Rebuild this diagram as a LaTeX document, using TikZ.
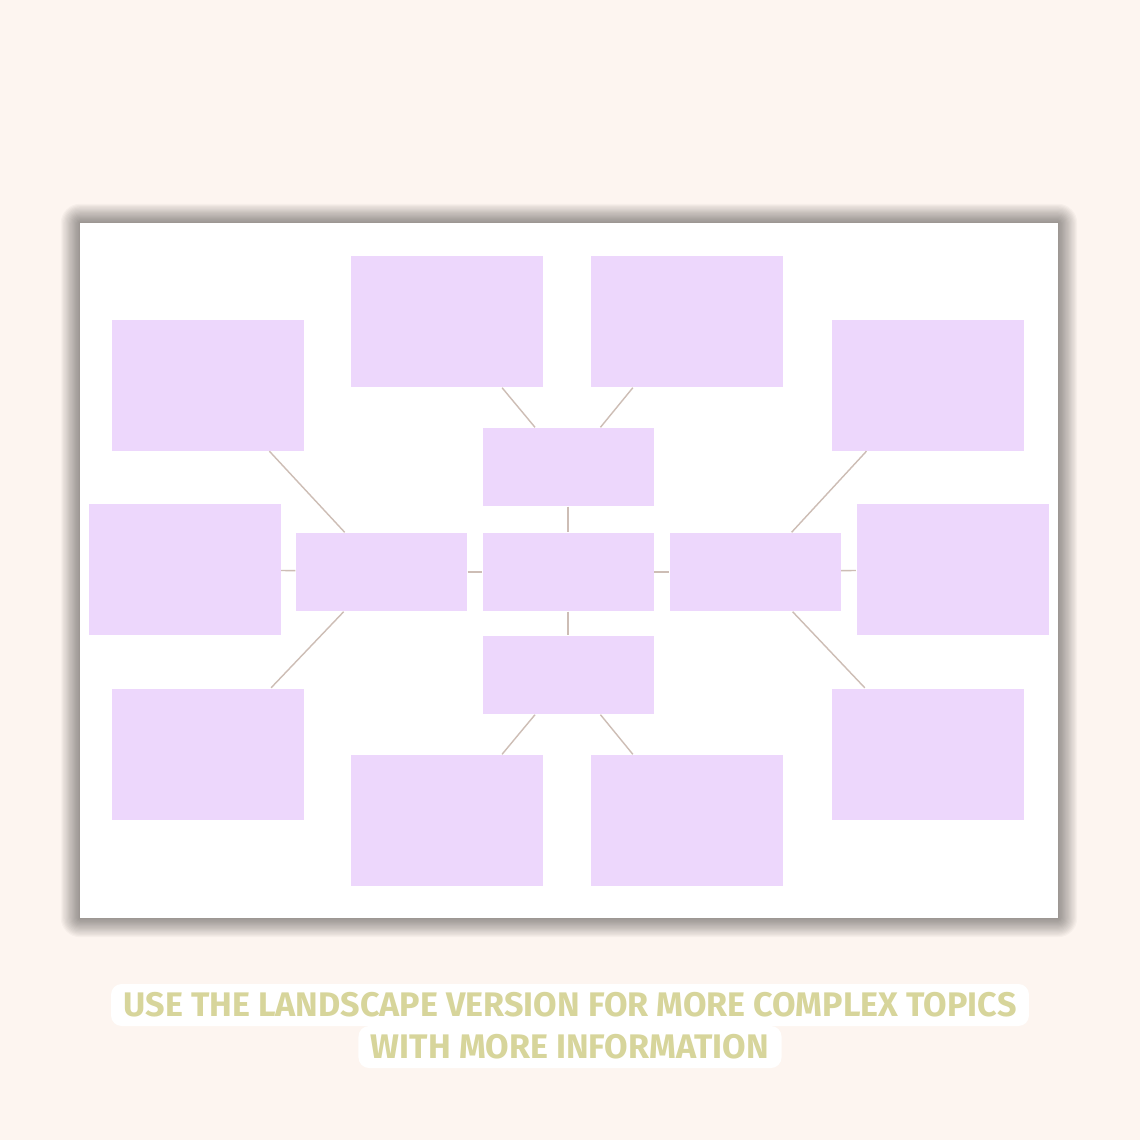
\documentclass[tikz,border=0pt]{standalone}
\usepackage{fontspec}
\newfontfamily\notefont{Fira Sans}
\definecolor{cream}{HTML}{FDF5F0}
\definecolor{lilac}{HTML}{EDD7FC}
\definecolor{twig}{HTML}{CDBDB5}
\definecolor{olive}{HTML}{D7D59B}
\tikzset{
  bb/.style={fill=lilac,minimum width=1.92cm,minimum height=1.31cm,inner sep=0pt},
  sb/.style={fill=lilac,minimum width=1.71cm,minimum height=0.78cm,inner sep=0pt},
  ln/.style={twig,line width=0.4pt},
  note/.style={fill=white,rounded corners=3pt,inner xsep=0.125cm,inner ysep=0pt,minimum height=0.42cm,
    font=\notefont\bfseries\fontsize{9.7}{9.7}\selectfont,text=olive}
}

\begin{document}
\begin{tikzpicture}
    \fill[cream] (0,0) rectangle (11.4,-11.4);
    \useasboundingbox (0,0) rectangle (11.4,-11.4);
    % sheet with its shadow
    \foreach \i in {1,...,16}
      \fill[black,opacity=0.028,rounded corners=\i*0.012cm] (0.8-\i*0.012,-2.23+\i*0.012) rectangle (10.58+\i*0.012,-9.18-\i*0.012);
    \fill[white] (0.8,-2.23) rectangle (10.58,-9.18);
    % centre column
    \node[sb] (ct) at (5.68,-4.67) {};
    \node[sb] (c) at (5.68,-5.72) {};
    \node[sb] (cb) at (5.68,-6.75) {};
    \node[sb] (cl) at (3.815,-5.72) {};
    \node[sb] (cr) at (7.55,-5.72) {};
    % outer boxes
    \node[bb] (tl) at (2.08,-3.85) {};
    \node[bb] (tml) at (4.47,-3.215) {};
    \node[bb] (tmr) at (6.87,-3.215) {};
    \node[bb] (tr) at (9.275,-3.85) {};
    \node[bb] (ml) at (1.845,-5.69) {};
    \node[bb] (mr) at (9.525,-5.69) {};
    \node[bb] (bl) at (2.08,-7.54) {};
    \node[bb] (bml) at (4.47,-8.205) {};
    \node[bb] (bmr) at (6.87,-8.205) {};
    \node[bb] (br) at (9.275,-7.54) {};
    % connectors
    \draw[ln] (ct) -- (c) (c) -- (cb) (cl) -- (c) (c) -- (cr);
    \draw[ln] (ml) -- (cl) (cr) -- (mr);
    \draw[ln] (tl) -- (cl) (bl) -- (cl) (tr) -- (cr) (br) -- (cr);
    \draw[ln] (tml) -- (ct) (tmr) -- (ct) (bml) -- (cb) (bmr) -- (cb);
    % caption
    \node[note] (n1) at (5.70,-10.05) {USE THE LANDSCAPE VERSION FOR MORE COMPLEX TOPICS};
    \node[note] (n2) at (5.70,-10.47) {WITH MORE INFORMATION};
\end{tikzpicture}
\end{document}
